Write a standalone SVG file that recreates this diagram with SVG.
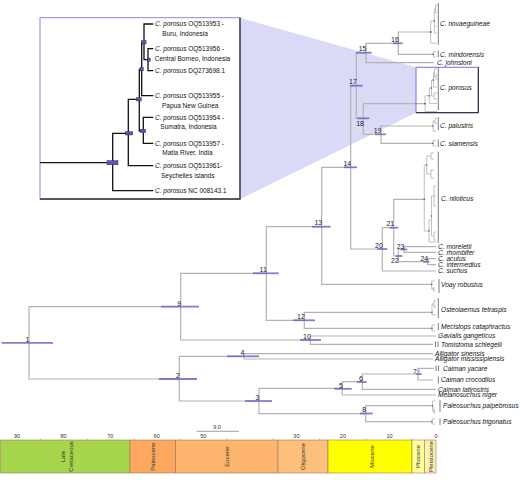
<svg xmlns="http://www.w3.org/2000/svg" width="520" height="480" viewBox="0 0 520 480">
<style>
.br{stroke:#b3b3b3;stroke-width:1.2;fill:none}
.mt{stroke:#a8a8a8;stroke-width:0.7;fill:none}
.bar{stroke:#6a6ac4;stroke-width:1.8;opacity:.85}
.dot{fill:#5050c0}
.nl{font-family:"Liberation Sans",Arial,sans-serif;font-size:7px;fill:#222;text-anchor:end}
.tip{font-family:"Liberation Sans",Arial,sans-serif;font-size:6.6px;font-style:italic;fill:#111}
.brk{stroke:#444;stroke-width:0.7;fill:none}
.in{stroke:#111;stroke-width:1.3;fill:none}
.im{fill:#5656c4;stroke:#223;stroke-width:0.4}
.it{font-family:"Liberation Sans",Arial,sans-serif;font-size:6.5px;fill:#111}
.it .i{font-style:italic}
.per{stroke:#9a7a5a;stroke-width:0.6}
.pt{font-family:"Liberation Sans",Arial,sans-serif;font-size:6px;fill:#333;text-anchor:middle}
.ax{font-family:"Liberation Sans",Arial,sans-serif;font-size:5.5px;fill:#333;text-anchor:middle}
</style>
<rect width="520" height="480" fill="#fff"/>
<!-- zoom shading -->
<polygon points="240,17.7 416,67.3 416,112.7 240,199" fill="#dadaf7"/>
<g id="connectors">
<path class="br" d="M180.7,306.7 H29 V379 H179.3"/>
<path class="br" d="M266.3,273.3 H180.7 V340 H310.3"/>
<path class="br" d="M321.7,226.7 H266.3 V320.3 H304.3"/>
<path class="br" d="M350.7,167.3 H321.7 V284.3 H431.7"/>
<path class="br" d="M356.3,85.7 H350.7 V249 H382.3"/>
<path class="br" d="M366,52.7 H356.3 V118.3 H363.3"/>
<path class="br" d="M398.3,43.3 H366 V62.7 H434"/>
<path class="br" d="M430.7,32 H398.3 V54.3 H433.3"/>
<path class="br" d="M425,103.6 H363.3 V134.3 H381"/>
<path class="br" d="M433,126 H381 V143.3 H433"/>
<path class="br" d="M393.7,227.7 H382.3 V271 H436"/>
<path class="br" d="M424.3,199.3 H393.7 V256 H398.3"/>
<path class="br" d="M404,249.5 H398.3 V261.7 H427.7"/>
<path class="br" d="M436,246.7 H404 V252.3 H436"/>
<path class="br" d="M436,258.7 H427.7 V264.7 H436"/>
<path class="br" d="M432,312.3 H304.3 V328.3 H432"/>
<path class="br" d="M436,336 H310.3 V344.3 H433"/>
<path class="br" d="M244,356.3 H179.3 V401 H259"/>
<path class="br" d="M433,353.7 H244 V359 H433"/>
<path class="br" d="M342.3,388.3 H259 V413.7 H365.7"/>
<path class="br" d="M362.3,381.7 H342.3 V395 H436"/>
<path class="br" d="M418,374 H362.3 V389.3 H436"/>
<path class="br" d="M434,368.3 H418 V380 H433"/>
<path class="br" d="M432.5,405.7 H365.7 V421.7 H432"/>
<!-- collapsed intra-species subtrees -->
<g id="subtrees">
<path class="mt" d="M430.7,21 V43.3 H436.5 M430.7,21 H434.3 M434.3,9 V33 H436.5 M434.3,9 H435.5 M435.5,5 V13 M435.5,5 H437 M435.5,13 H437 M434.3,26 H436.5"/>
<path class="mt" d="M433.3,51.5 V57 M433.3,51.5 H436 M433.3,57 H436"/>
<path class="mt" d="M425,95.7 V111.5 H437 M425,95.7 H429.3 M429.3,88 V103.4 H437 M429.3,88 H431.5 M431.5,80 V96 H434 M434,93 V99 M434,93 H437 M434,99 H437 M431.5,80 H433.5 M433.5,73 V87 H437 M433.5,73 H434.5 M434.5,69 V77 M434.5,69 H437 M434.5,77 H436 M436,75 V79 M436,75 H437.5 M436,79 H437.5"/>
<path class="mt" d="M433,121 V131 H436 M433,121 H435 M435,118.5 V123.5 M435,118.5 H437 M435,123.5 H437"/>
<path class="mt" d="M433,140.5 V146 M433,140.5 H436 M433,146 H436"/>
<path class="mt" d="M424.3,165 V231 M424.3,165 H426.7 M426.7,156 V174 M426.7,156 H431 M431,153 V159 M431,153 H434 M431,159 H434 M426.7,174 H431 M431,170 V178 M431,170 H434 M431,178 H434 M424.3,231 H429 M429,220 V242 H436 M429,220 H431.5 M431.5,196 V236 M431.5,196 H434 M434,186 V206 M434,186 H436 M434,206 H436 M431.5,236 H434 M434,232 V240 M434,232 H436 M434,240 H436 M434,196 H436"/>
<path class="mt" d="M431.7,281 V289 M431.7,281 H435 M431.7,289 H435 M433.3,287 V291 M433.3,291 H435"/>
<path class="mt" d="M432,304 V315 H436 M432,304 H434 M434,301 V307 M434,301 H436 M434,307 H436"/>
<path class="mt" d="M432,325 V331 M432,325 H435 M432,331 H435"/>
<path class="mt" d="M432.5,401 V411 M432.5,401 H435.5 M432.5,411 H435.5 M434,407 V413 M434,413 H435.5"/>
<path class="mt" d="M432,419 V424 M432,419 H435 M432,424 H435"/>
<g class="dot">
<circle cx="430.7" cy="32" r="0.9"/><circle cx="434.3" cy="21" r="0.8"/><circle cx="433.3" cy="54.3" r="0.8"/>
<circle cx="425" cy="103.6" r="0.9"/><circle cx="429.3" cy="95.7" r="0.8"/><circle cx="431.5" cy="88" r="0.8"/><circle cx="433.5" cy="80" r="0.8"/>
<circle cx="433" cy="126" r="0.8"/><circle cx="433" cy="143.3" r="0.8"/>
<circle cx="424.3" cy="199.3" r="0.9"/><circle cx="426.7" cy="165" r="0.8"/><circle cx="429" cy="231" r="0.8"/><circle cx="431.5" cy="216" r="0.8"/>
<circle cx="431.7" cy="284.3" r="0.8"/><circle cx="432" cy="312.3" r="0.8"/><circle cx="432" cy="328.3" r="0.8"/>
<circle cx="432.5" cy="405.7" r="0.8"/><circle cx="432" cy="421.7" r="0.8"/><circle cx="419" cy="371" r="0.8"/>
</g>
</g>
<!-- clade brackets -->
<g id="brackets">
<path class="brk" d="M438.3,3 V45 M438.3,50.5 V57 M438.3,67.5 V110 M438.3,117 V130 M438.3,139.5 V147 M438.3,151.7 V243.3 M439,279 V293 M438.3,298 V318 M438.3,323 V330 M435.5,341.5 V347 M438,341.5 V347 M436,365.5 V371 M438.5,365.5 V371 M438.3,376.5 V383.5 M440,400 V412 M440,418.5 V425"/>
</g>
</g>
<!-- nodes -->
<g id="n1"><line class="bar" x1="1.7" y1="342.8" x2="53" y2="342.8"/><text class="nl" x="29.5" y="341.5">1</text></g>
<g id="n2"><line class="bar" x1="159" y1="379" x2="197" y2="379"/><text class="nl" x="179.8" y="377.8">2</text></g>
<g id="n3"><line class="bar" x1="245" y1="401" x2="272" y2="401"/><text class="nl" x="259.5" y="399.8">3</text></g>
<g id="n4"><line class="bar" x1="227" y1="356.3" x2="259" y2="356.3"/><text class="nl" x="244.5" y="355">4</text></g>
<g id="n5"><line class="bar" x1="334.3" y1="388.8" x2="351.7" y2="388.8"/><text class="nl" x="342.8" y="387.5">5</text></g>
<g id="n6"><line class="bar" x1="356.7" y1="382" x2="366.7" y2="382"/><text class="nl" x="362.8" y="381">6</text></g>
<g id="n7"><line class="bar" x1="416.2" y1="374" x2="421.7" y2="374"/><text class="nl" x="417" y="374">7</text></g>
<g id="n8"><line class="bar" x1="360" y1="413.5" x2="372.7" y2="413.5"/><text class="nl" x="366.2" y="412.3">8</text></g>
<g id="n9"><line class="bar" x1="161" y1="306.7" x2="199" y2="306.7"/><text class="nl" x="181.2" y="305.5">9</text></g>
<g id="n10"><line class="bar" x1="300" y1="340" x2="321" y2="340"/><text class="nl" x="310.8" y="338.8">10</text></g>
<g id="n11"><line class="bar" x1="253" y1="273.3" x2="278.7" y2="273.3"/><text class="nl" x="266.8" y="272">11</text></g>
<g id="n12"><line class="bar" x1="293" y1="320.3" x2="315" y2="320.3"/><text class="nl" x="304.8" y="319">12</text></g>
<g id="n13"><line class="bar" x1="312" y1="226.7" x2="330.7" y2="226.7"/><text class="nl" x="322.2" y="225.4">13</text></g>
<g id="n14"><line class="bar" x1="344" y1="167.3" x2="357" y2="167.3"/><text class="nl" x="351.2" y="166">14</text></g>
<g id="n15"><line class="bar" x1="356" y1="52.7" x2="371.7" y2="52.7"/><text class="nl" x="366.5" y="51.4">15</text></g>
<g id="n16"><line class="bar" x1="393" y1="43.3" x2="402.7" y2="43.3"/><text class="nl" x="398.8" y="42">16</text></g>
<g id="n17"><line class="bar" x1="350" y1="85.7" x2="362.7" y2="85.7"/><text class="nl" x="356.8" y="84.4">17</text></g>
<g id="n18"><line class="bar" x1="357.3" y1="118.3" x2="369.3" y2="118.3"/><text class="nl" x="364" y="125.5">18</text></g>
<g id="n19"><line class="bar" x1="375" y1="134.3" x2="386" y2="134.3"/><text class="nl" x="381.5" y="133">19</text></g>
<g id="n20"><line class="bar" x1="377.3" y1="249" x2="387.3" y2="249"/><text class="nl" x="382.8" y="247.7">20</text></g>
<g id="n21"><line class="bar" x1="389.3" y1="227.7" x2="398.3" y2="227.7"/><text class="nl" x="394.2" y="226.4">21</text></g>
<g id="n22"><line class="bar" x1="395.7" y1="256" x2="402.3" y2="256"/><text class="nl" x="398.8" y="263">22</text></g>
<g id="n23"><line class="bar" x1="400.7" y1="249.5" x2="407.3" y2="249.5"/><text class="nl" x="404.5" y="248.5">23</text></g>
<g id="n24"><line class="bar" x1="423.3" y1="261.7" x2="429.3" y2="261.7"/><text class="nl" x="428.2" y="260.6">24</text></g>
<!-- tips -->
<g id="tips">
<text class="tip" x="440" y="26.3">C. novaeguineae</text>
<text class="tip" x="440" y="57">C. mindorensis</text>
<text class="tip" x="437" y="65">C. johnstoni</text>
<text class="tip" x="440" y="90.3">C. porosus</text>
<text class="tip" x="440" y="128.3">C. palustris</text>
<text class="tip" x="440" y="145.6">C. siamensis</text>
<text class="tip" x="441" y="201">C. niloticus</text>
<text class="tip" x="438" y="249">C. moreletii</text>
<text class="tip" x="438" y="255">C. rhombifer</text>
<text class="tip" x="438" y="261">C. acutus</text>
<text class="tip" x="438" y="267">C. intermedius</text>
<text class="tip" x="438" y="273.3">C. suchus</text>
<text class="tip" x="441" y="286.6">Voay robustus</text>
<text class="tip" x="441" y="311.6">Osteolaemus tetraspis</text>
<text class="tip" x="441" y="328.6">Mecistops cataphractus</text>
<text class="tip" x="438" y="337.6">Gavialis gangeticus</text>
<text class="tip" x="441" y="346.6">Tomistoma schlegelii</text>
<text class="tip" x="435" y="355.6">Alligator sinensis</text>
<text class="tip" x="435" y="361.3">Alligator mississipiensis</text>
<text class="tip" x="443" y="370.6">Caiman yacare</text>
<text class="tip" x="441" y="382.3">Caiman crocodilus</text>
<text class="tip" x="438" y="391.6">Caiman latirostris</text>
<text class="tip" x="438" y="397.3">Melanosuchus niger</text>
<text class="tip" x="443" y="408">Paleosuchus palpebrosus</text>
<text class="tip" x="443" y="424">Paleosuchus trigonatus</text>
</g>
<!-- porosus highlight box -->
<g id="porosus-box">
<rect x="416" y="67.3" width="62.3" height="45.4" fill="none" stroke="#7272e2" stroke-width="1"/>
<path d="M478.3,67.3 V112.7 H416" fill="none" stroke="#222" stroke-width="1"/>
</g>
<!-- inset -->
<g id="inset">
<rect x="40" y="17.7" width="200" height="181.3" fill="#fff" stroke="#8a8ae2" stroke-width="1"/>
<path d="M240,17.7 V199 H40" fill="none" stroke="#333" stroke-width="1.3"/>
<g id="inset-tree">
<path class="in" d="M40,162.7 H112.7"/>
<path class="in" d="M128.3,133.3 H112.7 V190.7 H153.3"/>
<path class="in" d="M139.3,99.3 H128.3 V165.7 H153.3"/>
<path class="in" d="M141.7,69.3 H139.3 V131 H143.3"/>
<path class="in" d="M153.3,117.3 H143.3 V143.3 H153.3"/>
<path class="in" d="M144,42.3 H141.7 V95.7 H153.3"/>
<path class="in" d="M153.3,24 H144 V59.7 H148"/>
<path class="in" d="M153.3,48.7 H148 V70.7 H153.3"/>
<rect class="im" x="107" y="160.6" width="11" height="4.2"/>
<rect class="im" x="125.3" y="131.6" width="7.4" height="3.4"/>
<rect class="im" x="136.7" y="97.6" width="4.6" height="3.4"/>
<rect class="im" x="140.7" y="129.3" width="5" height="3.4"/>
<rect class="im" x="140" y="67.5" width="3.4" height="3.4"/>
<rect class="im" x="141.5" y="40.6" width="4.6" height="3.4"/>
<rect class="im" x="147.5" y="58" width="2.8" height="3.4"/>
</g>
<g id="inset-labels">
<text class="it" x="155" y="26.3"><tspan class="i">C. porosus</tspan> OQ513953 -</text>
<text class="it" x="162.3" y="36">Buru, Indonesia</text>
<text class="it" x="155" y="51"><tspan class="i">C. porosus</tspan> OQ513956 -</text>
<text class="it" x="154.7" y="60.7">Central Borneo, Indonesia</text>
<text class="it" x="155" y="73"><tspan class="i">C. porosus</tspan> DQ273698.1</text>
<text class="it" x="155" y="98"><tspan class="i">C. porosus</tspan> OQ513955 -</text>
<text class="it" x="162" y="107.7">Papua New Guinea</text>
<text class="it" x="155" y="119.6"><tspan class="i">C. porosus</tspan> OQ513954 -</text>
<text class="it" x="160.3" y="129.3">Sumatra, Indonesia</text>
<text class="it" x="155" y="145.6"><tspan class="i">C. porosus</tspan> OQ513957 -</text>
<text class="it" x="162.3" y="155.3">Matla River, India</text>
<text class="it" x="155" y="168"><tspan class="i">C. porosus</tspan> OQ513961-</text>
<text class="it" x="161" y="177.7">Seychelles islands</text>
<text class="it" x="155" y="193"><tspan class="i">C. porosus</tspan> NC 008143.1</text>
</g>
</g>
<!-- scale bar -->
<g id="scalebar">
<line x1="196.7" y1="431.3" x2="239" y2="431.3" stroke="#888" stroke-width="0.8"/>
<text class="ax" x="217" y="429.3">9.0</text>
</g>
<!-- time axis -->
<g id="timescale">
<g class="ax">
<text x="17" y="438.3">90</text><text x="63.6" y="438.3">80</text><text x="110.2" y="438.3">70</text><text x="156.7" y="438.3">60</text><text x="203.3" y="438.3">50</text><text x="296.4" y="438.3">30</text><text x="342.9" y="438.3">20</text><text x="389.5" y="438.3">10</text><text x="436" y="438.3">0</text>
</g>
<path d="M40.7,438.3 V440 M87.3,438.3 V440 M133.9,438.3 V440 M180.4,438.3 V440 M227,438.3 V440 M273.1,438.3 V440 M319.7,438.3 V440 M366.2,438.3 V440 M412.7,438.3 V440" stroke="#999" stroke-width="0.5"/>
<rect class="per" x="0.5" y="440" width="129.5" height="33" fill="#a6d64b"/>
<rect class="per" x="130" y="440" width="45.7" height="33" fill="#fda75f"/>
<rect class="per" x="175.7" y="440" width="102.3" height="33" fill="#fdb46c"/>
<rect class="per" x="278" y="440" width="50" height="33" fill="#fdc07a"/>
<rect class="per" x="328" y="440" width="84" height="33" fill="#ffff00"/>
<rect class="per" x="412" y="440" width="12.3" height="33" fill="#ffff99"/>
<rect class="per" x="424.3" y="440" width="11.7" height="33" fill="#fff2ae"/>
<text class="pt" transform="translate(65.4,456.5) rotate(-90)">Late</text>
<text class="pt" transform="translate(73,456.5) rotate(-90)">Cretaceous</text>
<text class="pt" transform="translate(154.5,456.5) rotate(-90)">Paleocene</text>
<text class="pt" transform="translate(228.8,456.5) rotate(-90)">Eocene</text>
<text class="pt" transform="translate(305.4,456.5) rotate(-90)">Oligocene</text>
<text class="pt" transform="translate(373.8,456.5) rotate(-90)">Miocene</text>
<text class="pt" transform="translate(420.4,456.5) rotate(-90)">Pliocene</text>
<text class="pt" transform="translate(432.8,456.5) rotate(-90)">Pleistocene</text>
</g>
</svg>
